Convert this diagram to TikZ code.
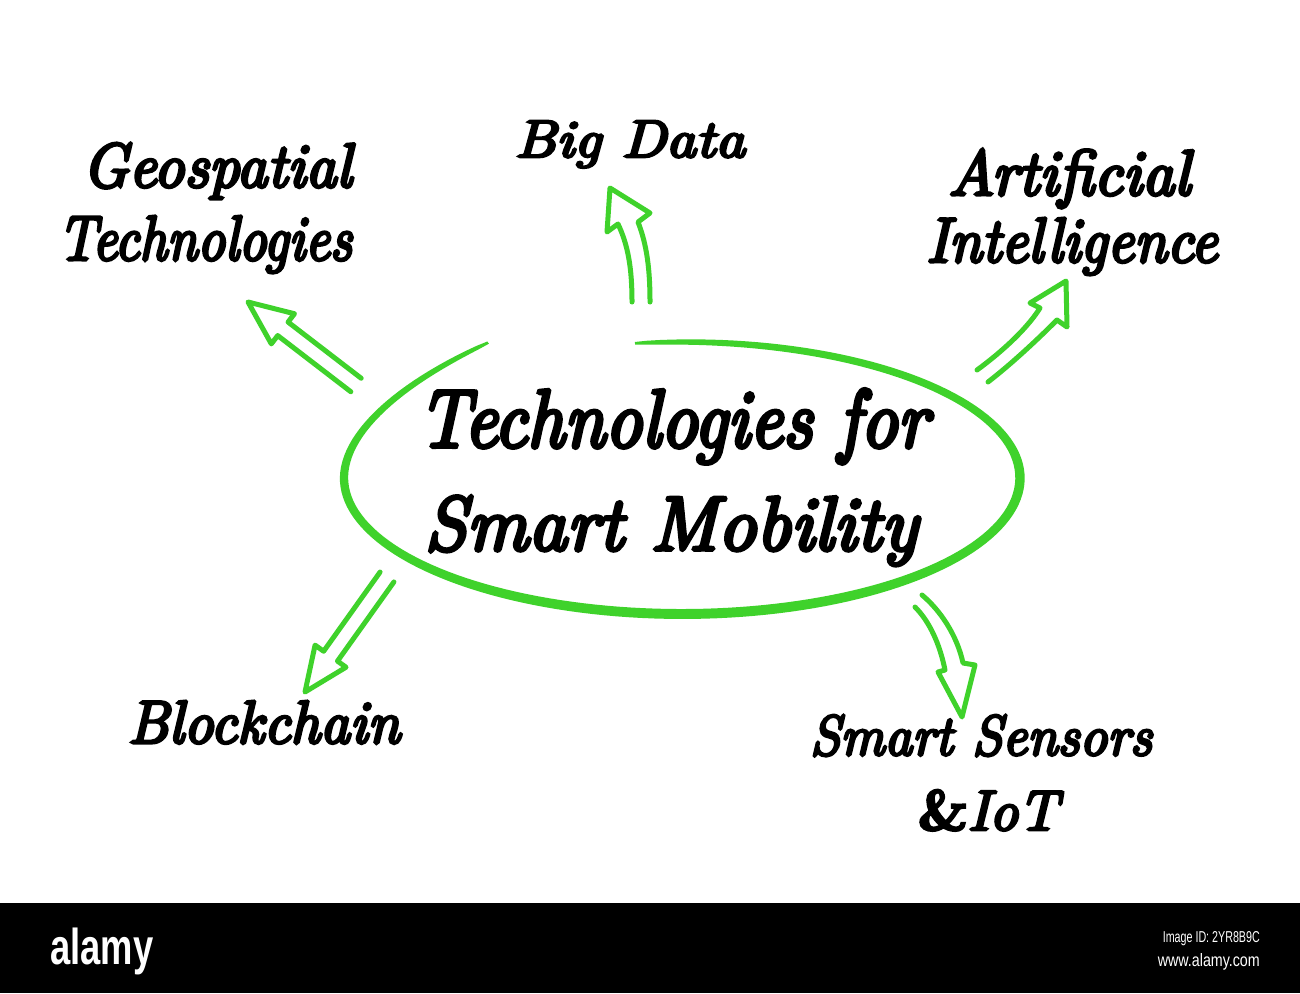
\documentclass[tikz,border=0pt]{standalone}
\usepackage{fontspec}
\usepackage{graphicx}
\newfontfamily\wmfont{Liberation Sans}
\usetikzlibrary{calc}
\definecolor{gr}{RGB}{63,210,43}
\newcommand\fakebold[1]{\special{pdf:literal direct 2 Tr 0.5 w}#1\special{pdf:literal direct 0 Tr}}
\newcommand\lbl[3]{\resizebox{#1pt}{#2pt}{\fakebold{\itshape #3}}}
\newcommand\hollowarrow[3]{%
  \coordinate (#1T) at #2;
  \coordinate (#1P) at #3;
  \coordinate (#1H) at ($(#1P)!44pt!(#1T)$);
  \draw[hollow] ($(#1T)!8.5pt!90:(#1P)$) -- ($(#1H)!8.5pt!90:(#1P)$) -- ($(#1H)!19pt!90:(#1P)$) -- (#1P)
     -- ($(#1H)!19pt!-90:(#1P)$) -- ($(#1H)!8.5pt!-90:(#1P)$) -- ($(#1T)!8.5pt!-90:(#1P)$);
}
\begin{document}
\begin{tikzpicture}[x={(1pt,0)},y={(0,-1pt)},
  lab/.style={anchor=base,inner sep=0pt,outer sep=0pt,text=black},
  hollow/.style={draw=gr,line width=5pt,line join=round,line cap=round},
  declare function={ew(\a)=2+8*(max(0.001,sin((\a-262)*0.5405)))^0.35;
                    edy(\a)=24*(max(0,\a-540)/55)*(max(0,\a-540)/55);}]
\useasboundingbox (0,0) rectangle (1300,993);
\fill[white] (0,0) rectangle (1300,993);

% central hand-drawn ellipse
\fill[gr] plot[domain=262:595,samples=160,variable=\t]
   ({682+(338+ew(\t)/2)*cos(\t)},{478+(136+ew(\t)/2)*sin(\t)-edy(\t)})
   -- plot[domain=595:262,samples=160,variable=\t]
   ({682+(338-ew(\t)/2)*cos(\t)},{478+(136-ew(\t)/2)*sin(\t)-edy(\t)}) -- cycle;

% texts
\node[lab] (t1) at (673,447) {\lbl{510}{58}{Technologies for}};
\node[lab] (t2) at (671,550) {\lbl{493}{54}{Smart Mobility}};
\node[lab] (geo1) at (217,187) {\lbl{269}{44}{Geospatial}};
\node[lab] (geo2) at (205,260) {\lbl{294}{44}{Technologies}};
\node[lab] (big) at (630,157) {\lbl{230}{36}{Big Data}};
\node[lab] (ai1) at (1069,195) {\lbl{242}{46}{Artificial}};
\node[lab] (ai2) at (1072,262) {\lbl{291}{44}{Intelligence}};
\node[lab] (bc) at (264,743) {\lbl{272}{42}{Blockchain}};
\node[lab] (ss1) at (981,755) {\lbl{342}{40}{Smart Sensors}};
\node[lab] (ss2) at (988,830) {\resizebox{140pt}{40pt}{\fakebold{{\bfseries\&}\itshape IoT}}};

% arrows
\hollowarrow{ga}{(356,385)}{(248,302)}
\hollowarrow{ba}{(387,577)}{(305,692)}
\draw[hollow] (632,302) .. controls (632,268) and (628,245) .. (618,224) -- (607,232) -- (610,188)
   -- (650,213) -- (638,222) .. controls (647,245) and (650,270) .. (650,302);
\draw[hollow] (977,370) .. controls (995,357) and (1025,332) .. (1040,308) -- (1030,303) -- (1066,281)
   -- (1067,327) -- (1057,320) .. controls (1035,342) and (1010,365) .. (988,382);
\draw[hollow] (922,595) .. controls (940,610) and (957,635) .. (963,663) -- (975,665) -- (962,717)
   -- (938,672) -- (945,670) .. controls (940,645) and (930,622) .. (915,607);

% watermark bar
\fill[black] (0,903) rectangle (1300,993);
\node[anchor=base,inner sep=0pt,text=white] (wm) at (102,964) {\resizebox*{103pt}{47pt}{\wmfont\bfseries alamy}};
\node[anchor=base east,inner sep=0pt,text=white] (wmid) at (1260,942) {\resizebox{97pt}{11pt}{\wmfont Image ID: 2YR8B9C}};
\node[anchor=base east,inner sep=0pt,text=white] (wmurl) at (1260,966) {\resizebox{102pt}{13pt}{\wmfont www.alamy.com}};
\end{tikzpicture}
\end{document}
